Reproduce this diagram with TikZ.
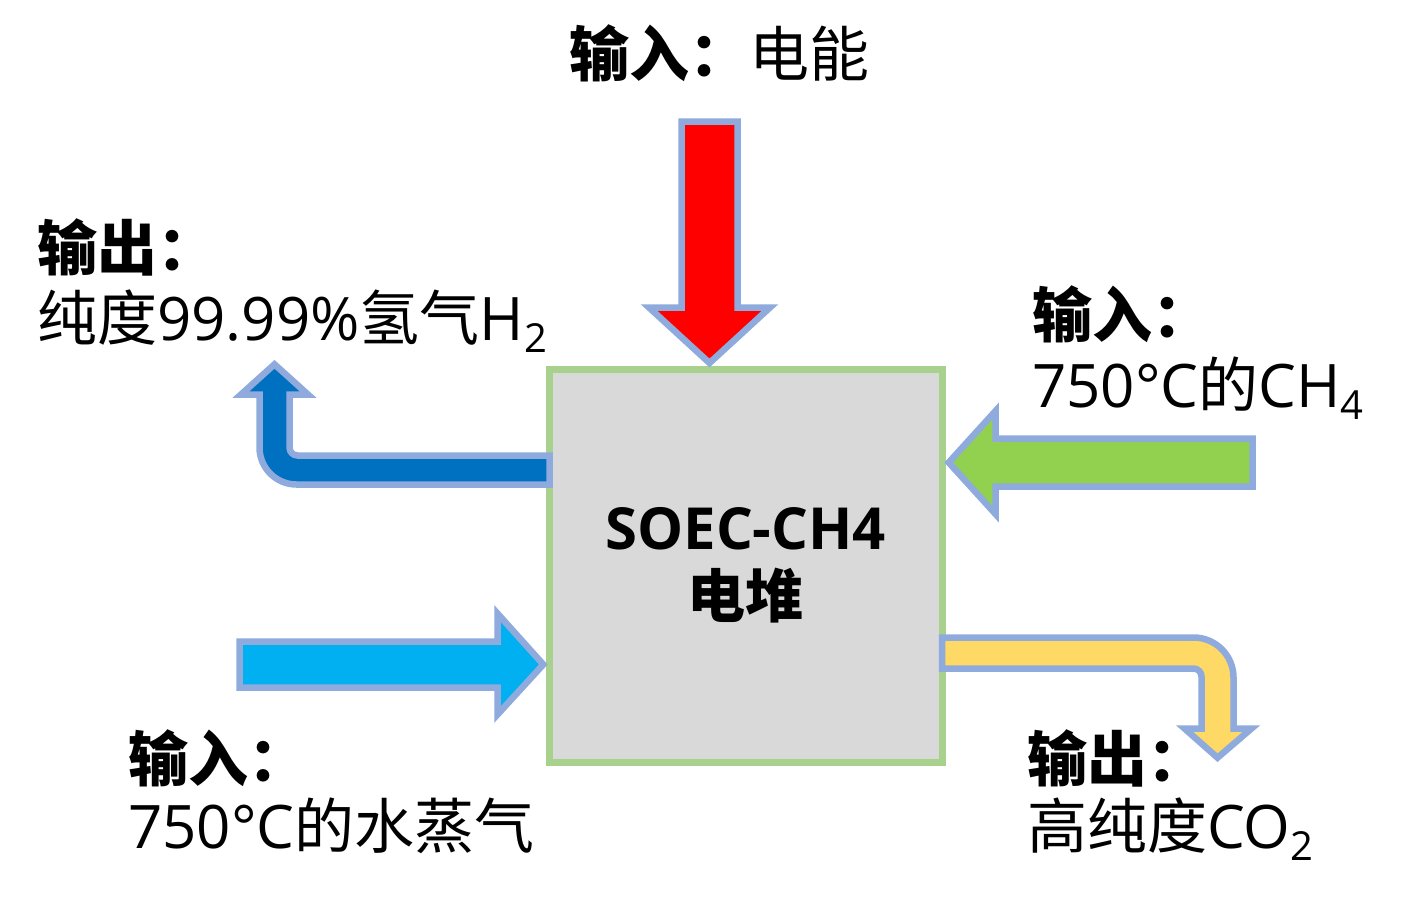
\documentclass[tikz,border=0pt]{standalone}
\usepackage{fontspec}
\setmainfont{Open Sans}
\newfontfamily\cjk{Noto Sans CJK SC}
\usetikzlibrary{calc,positioning}
\definecolor{rimblue}{HTML}{8FAADC}
\definecolor{boxgreen}{HTML}{A9D18E}
\definecolor{boxgrey}{HTML}{D9D9D9}
\definecolor{powerred}{HTML}{FF0000}
\definecolor{hydroblue}{HTML}{0070C0}
\definecolor{methgreen}{HTML}{92D050}
\definecolor{steamblue}{HTML}{00B0F0}
\definecolor{carbyellow}{HTML}{FFD966}
\newcommand\zh[1]{{\cjk #1}}
\newcommand\zhb[1]{{\cjk\bfseries #1}}
\newcommand\lowidx[1]{\raisebox{-12pt}{\fontsize{40}{40}\selectfont #1}}
\tikzset{
    stack/.style={
    rectangle,draw=boxgreen,fill=boxgrey,line width=7pt,minimum size=392.5pt,inner sep=0pt,
    align=center,font=\fontsize{58}{68}\selectfont\bfseries
    },
    flow/.style={
    draw=rimblue,line width=6.5pt,miter limit=10
    },
    lbl/.style={
    anchor=base west,inner sep=0pt,font=\fontsize{60}{60}\selectfont
    },
}
\begin{document}
\begin{tikzpicture}[x=1pt,y=-1pt]
   \useasboundingbox (0,0) rectangle (1406,903);
   \node[stack] (soec) at (745.75,565.75) {SOEC-CH4\\\zh{电堆}};

   % input arrows
   \draw[flow,fill=powerred] (681.5,121.5) -- (737.5,121.5) -- (737.5,307.5) -- (770,307.5)
     -- (709.5,363) -- (649,307.5) -- (681.5,307.5) -- cycle;
   \draw[flow,fill=methgreen] (1252.5,438.5) -- (1252.5,486.5) -- (995.5,486.5) -- (995.5,514)
     -- (948.7,462.5) -- (995.5,411) -- (995.5,438.5) -- cycle;
   \draw[flow,fill=steamblue] (239.5,641.5) -- (497.5,641.5) -- (497.5,613.5) -- (543.3,664.5)
     -- (497.5,714.5) -- (497.5,687.5) -- (239.5,687.5) -- cycle;

   % output arrows
   \draw[flow,fill=hydroblue] (549.5,484.5) -- (296.5,484.5) arc[start angle=90,end angle=180,radius=37]
     -- (259.5,394.5) -- (241,394.5) -- (274.5,364.3) -- (308,394.5) -- (289.5,394.5)
     -- (289.5,447.5) arc[start angle=180,end angle=90,radius=8] -- (549.5,455.5) -- cycle;
   \draw[flow,fill=carbyellow] (942,637.5) -- (1193.5,637.5) arc[start angle=270,end angle=360,radius=40]
     -- (1233.5,728.5) -- (1251.5,728.5) -- (1217.5,757.7) -- (1184.5,728.5) -- (1201.5,728.5)
     -- (1201.5,676.5) arc[start angle=0,end angle=-90,radius=8] -- (942,668.5) -- cycle;

   % labels
   \node[lbl,anchor=base] (powerin) at (719,76) {\zhb{输入：}\zh{电能}};
   \node[lbl] (hydrohead) at (37,270) {\zhb{输出：}};
   \node[lbl] (hydrotext) at (37,340) {\zh{纯度}99.99\%\zh{氢气}H\lowidx{2}};
   \node[lbl] (methhead) at (1032,337) {\zhb{输入：}};
   \node[lbl] (methtext) at (1032,407) {750°C\zh{的}CH\lowidx{4}};
   \node[lbl] (steamhead) at (128,781) {\zhb{输入：}};
   \node[lbl] (steamtext) at (128,848) {750°C\zh{的水蒸气}};
   \node[lbl] (carbhead) at (1027,781) {\zhb{输出：}};
   \node[lbl] (carbtext) at (1027,848) {\zh{高纯度}CO\lowidx{2}};
\end{tikzpicture}
\end{document}
